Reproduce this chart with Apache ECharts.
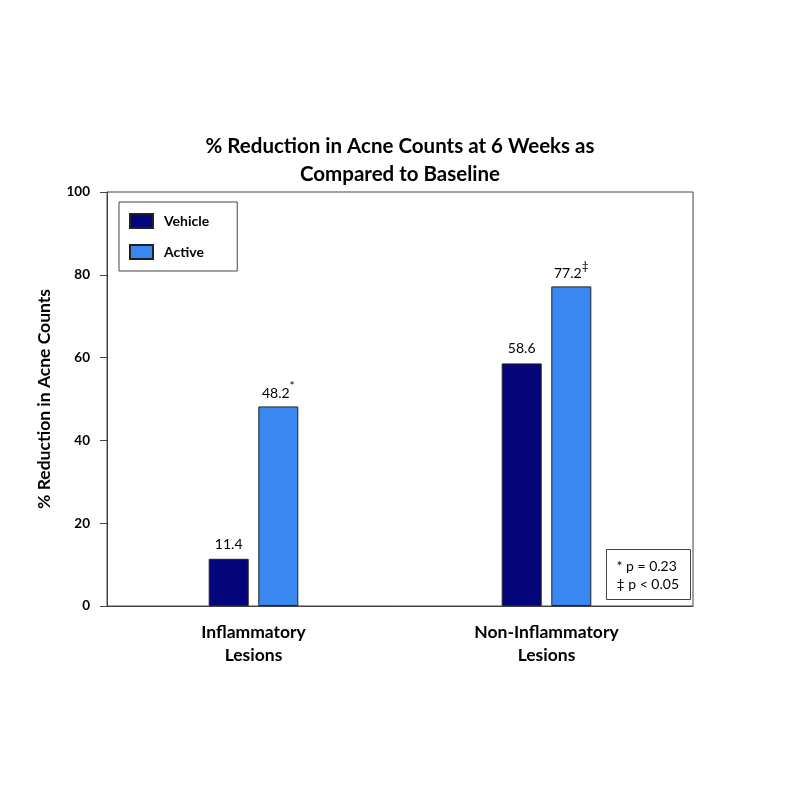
<!DOCTYPE html>
<html>
<head>
<meta charset="utf-8">
<script src="https://cdn.jsdelivr.net/npm/echarts@6/dist/echarts.min.js"></script>
<style>
  html, body { margin: 0; padding: 0; background: #fff; }
  #chart { width: 800px; height: 800px; }
</style>
</head>
<body>
<div id="chart"></div>
<script>
  // data
  const categories = ['Inflammatory\nLesions', 'Non-Inflammatory\nLesions'];
  const vehicle = [11.4, 58.6];
  const active = [48.2, 77.2];
  const vehicleMarks = ['', ''];
  const activeMarks = ['*', '\u2021'];
  const yTicks = [0, 20, 40, 60, 80, 100];
  const footnotes = ['* p = 0.23', '\u2021 p < 0.05'];

  const FONT = 'Lato, "Open Sans", sans-serif';

  const chart = echarts.init(document.getElementById('chart'));

  // value label with a raised marker; padding pushes the two parts apart vertically
  function makeLabel(marks) {
    return {
      show: true,
      position: 'top',
      distance: 6,
      formatter: (p) => {
        const m = marks[p.dataIndex];
        return m ? `{v|${p.value.toFixed(1)}}{s|${m}}` : `{n|${p.value.toFixed(1)}}`;
      },
      rich: {
        n: { fontFamily: FONT, fontSize: 14, color: '#000', lineHeight: 17 },
        v: { fontFamily: FONT, fontSize: 14, color: '#000', lineHeight: 17, padding: [8, 0, 0, 0] },
        s: { fontFamily: FONT, fontSize: 12, color: '#000', lineHeight: 17, padding: [0, 0, 8, 0] }
      }
    };
  }

  const activeLabel = makeLabel(activeMarks);
  activeLabel.distance = 8;

  const options = {
    animation: false,
    backgroundColor: '#fff',
    title: {
      text: '% Reduction in Acne Counts at 6 Weeks as\nCompared to Baseline',
      left: 'center',
      top: 127,
      textStyle: {
        fontFamily: FONT,
        fontSize: 20.5,
        fontWeight: 'bold',
        color: '#000',
        lineHeight: 28
      }
    },
    legend: {
      orient: 'vertical',
      left: 119,
      top: 202,
      padding: [11, 28, 11, 10],
      itemGap: 15,
      itemWidth: 23,
      itemHeight: 14,
      icon: 'rect',
      borderColor: '#444',
      borderWidth: 1,
      borderRadius: 0,
      data: ['Vehicle', 'Active'],
      textStyle: { fontFamily: FONT, fontSize: 14, fontWeight: 'bold', color: '#000', padding: [0, 0, 0, 6] }
    },
    grid: {
      left: 107,
      right: 107,
      top: 192,
      bottom: 194,
      show: true,
      borderColor: '#444',
      borderWidth: 1,
      backgroundColor: 'transparent'
    },
    xAxis: {
      type: 'category',
      data: categories,
      axisLine: { lineStyle: { color: '#444' } },
      axisTick: { show: false },
      axisLabel: {
        margin: 15,
        fontFamily: FONT,
        fontSize: 17.5,
        fontWeight: 'bold',
        color: '#000',
        lineHeight: 23
      }
    },
    yAxis: {
      type: 'value',
      min: yTicks[0],
      max: yTicks[yTicks.length - 1],
      interval: 20,
      name: '% Reduction in Acne Counts',
      nameLocation: 'middle',
      nameGap: 54,
      nameTextStyle: { fontFamily: FONT, fontSize: 17.5, fontWeight: 'bold', color: '#000' },
      axisLine: { show: true, lineStyle: { color: '#444' } },
      axisTick: { show: true, length: 7, lineStyle: { color: '#444' } },
      splitLine: { show: false },
      axisLabel: {
        margin: 17,
        fontFamily: FONT,
        fontSize: 13.5,
        fontWeight: 'bold',
        color: '#000'
      }
    },
    series: [
      {
        name: 'Vehicle',
        type: 'bar',
        data: vehicle,
        barWidth: 40,
        barGap: '24%',
        itemStyle: { color: '#04057a', borderColor: '#222', borderWidth: 1 },
        label: makeLabel(vehicleMarks)
      },
      {
        name: 'Active',
        type: 'bar',
        data: active,
        barWidth: 40,
        itemStyle: { color: '#3b87f2', borderColor: '#222', borderWidth: 1 },
        label: activeLabel
      }
    ],
    graphic: [
      {
        type: 'group',
        left: 606,
        top: 549,
        children: [
          {
            type: 'rect',
            shape: { x: 0, y: 0, width: 84, height: 50 },
            style: { fill: '#fff', stroke: '#444', lineWidth: 1 }
          },
          {
            type: 'text',
            x: 10,
            y: 8,
            style: {
              text: footnotes.join('\n'),
              fontFamily: FONT,
              fontSize: 14,
              lineHeight: 18,
              fill: '#000'
            }
          }
        ]
      }
    ]
  };

  chart.setOption(options);
</script>
</body>
</html>
